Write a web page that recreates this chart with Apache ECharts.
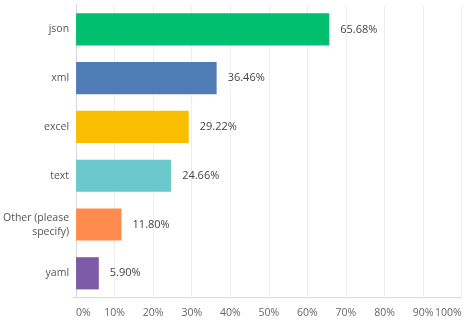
<!DOCTYPE html>
<html><head><meta charset="utf-8">
<script src="https://cdn.jsdelivr.net/npm/echarts@6/dist/echarts.min.js"></script>
<style>html,body{margin:0;padding:0;background:#fff}#c{width:474px;height:323px}</style>
</head><body><div id="c"></div>
<script>
const categories = ["json", "xml", "excel", "text", "Other (please\nspecify)", "yaml"];
const values = [65.68, 36.46, 29.22, 24.66, 11.80, 5.90];
const colors = ["#00BF6F", "#507CB6", "#F9BE00", "#6BC8CD", "#FF8B4F", "#7D5BA6"];
const xTicks = [0, 10, 20, 30, 40, 50, 60, 70, 80, 90, 100];

const chart = echarts.init(document.getElementById('c'), null, {renderer: 'canvas'});
chart.setOption({
  animation: false,
  textStyle: {fontFamily: 'Open Sans'},
  grid: {left: 72.6, right: 12.4, top: 5, bottom: 25.3, containLabel: false},
  xAxis: {
    type: 'value', min: xTicks[0], max: xTicks[xTicks.length - 1], interval: 10,
    axisLine: {show: false}, axisTick: {show: false},
    splitLine: {show: true, lineStyle: {color: '#eeeeee', width: 1}},
    axisLabel: {formatter: v => v + '%', color: '#666', fontSize: 10.5, margin: 10,
      alignMinLabel: 'left', alignMaxLabel: 'right'}
  },
  yAxis: {
    type: 'category', data: categories, inverse: true,
    axisLine: {show: true, lineStyle: {color: '#d6d6d6'}},
    axisTick: {show: false},
    axisLabel: {color: '#555', fontSize: 10.5, margin: 7, align: 'right', lineHeight: 14}
  },
  series: [{
    type: 'bar', data: values.map((v, i) => ({value: v, itemStyle: {color: colors[i]}})),
    barCategoryGap: '34%',
    label: {show: true, position: 'right', distance: 11, color: '#444', fontSize: 11,
      formatter: p => p.value.toFixed(2) + '%'}
  }],
  graphic: [{type: 'line', shape: {x1: 72.6, y1: 297.7, x2: 461.6, y2: 297.7}, style: {stroke: '#d6d6d6', lineWidth: 1}}]
});
</script></body></html>
